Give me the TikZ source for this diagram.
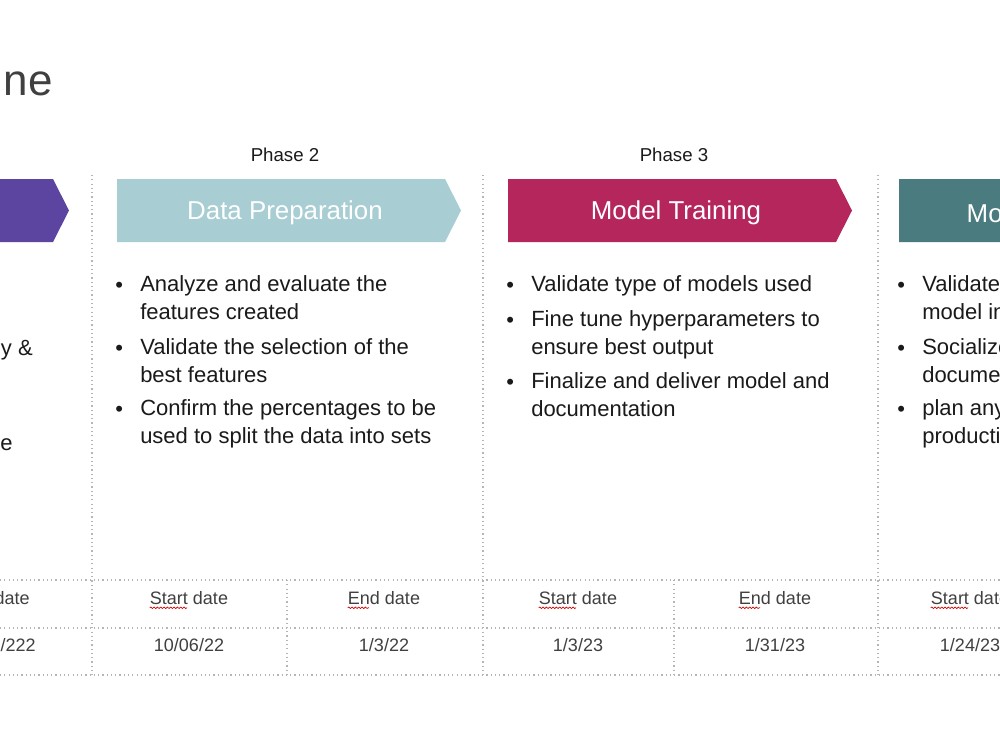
\documentclass[tikz,border=0pt]{standalone}
\usepackage{fontspec}
\setmainfont{Liberation Sans}
\usetikzlibrary{decorations.pathmorphing}
\definecolor{ph1}{HTML}{5B45A0}
\definecolor{ph2}{HTML}{A8CDD3}
\definecolor{ph3}{HTML}{B5265C}
\definecolor{ph4}{HTML}{4A7B7F}
\definecolor{txt}{HTML}{1A1A1A}
\definecolor{grid}{HTML}{B5B5B5}
\begin{document}
\begin{tikzpicture}[x=0.75pt,y=-0.75pt,
  gridline/.style={grid,line width=0.9pt,dash pattern=on 0.9pt off 2.3pt},
  bul/.style={anchor=base west,inner sep=0,text=txt,font=\fontsize{16.5}{21}\selectfont,align=left},
  btxt/.style={bul,anchor=north west},
  hdr/.style={text=white,font=\fontsize{19.4}{22}\selectfont},
  phase/.style={text=txt,font=\fontsize{14}{16}\selectfont},
  datet/.style={text=black!75,font=\fontsize{13.5}{15}\selectfont},
  squig/.style={red!80!black,line width=0.5pt,decorate,decoration={snake,amplitude=0.6pt,segment length=2.5pt}}]
\useasboundingbox (0,0) rectangle (1000,750);
\clip (0,0) rectangle (1000,750);
\fill[white] (0,0) rectangle (1000,750);
% title
\node[anchor=base east,inner sep=0,text=black!75,font=\fontsize{33}{36}\selectfont] (title) at (53,95) {ne};
% grid
\foreach \y in {580,628,675} \draw[gridline] (0,\y) -- (1000,\y);
\foreach \x in {92,483,878} \draw[gridline] (\x,175) -- (\x,675);
\foreach \x in {287,674} \draw[gridline] (\x,580) -- (\x,675);
% chevrons
\fill[ph1] (-10,179) -- (53,179) -- (69,210.5) -- (53,242) -- (-10,242) -- cycle;
\fill[ph2] (117,179) -- (445,179) -- (461,210.5) -- (445,242) -- (117,242) -- cycle;
\fill[ph3] (508,179) -- (836,179) -- (852,210.5) -- (836,242) -- (508,242) -- cycle;
\fill[ph4] (899,179) -- (1227,179) -- (1243,210.5) -- (1227,242) -- (899,242) -- cycle;
\node[hdr] (h2) at (285,213) {Data Preparation};
\node[hdr] (h3) at (676,213) {Model Training};
\node[hdr,anchor=west] (h4) at (962,213) {Model};
\node[phase] (p2) at (285,155) {Phase 2};
\node[phase] (p3) at (674,155) {Phase 3};
% phase 1 fragments
\node[bul,anchor=base east] (l1a) at (33,355) {y \&};
\node[bul,anchor=base east] (l1b) at (13,450) {e};
% phase 2 bullets
\node[bul] (b2a) at (115,292) {•}; \node[btxt] (t2a) at (140,275.5) {Analyze and evaluate the\\features created};
\node[bul] (b2b) at (115,355) {•}; \node[btxt] (t2b) at (140,338.5) {Validate the selection of the\\best features};
\node[bul] (b2c) at (115,416) {•}; \node[btxt] (t2c) at (140,399.5) {Confirm the percentages to be\\used to split the data into sets};
% phase 3 bullets
\node[bul] (b3a) at (506,292) {•}; \node[btxt] (t3a) at (531,275.5) {Validate type of models used};
\node[bul] (b3b) at (506,327) {•}; \node[btxt] (t3b) at (531,310.5) {Fine tune hyperparameters to\\ensure best output};
\node[bul] (b3c) at (506,389) {•}; \node[btxt] (t3c) at (531,372.5) {Finalize and deliver model and\\documentation};
% phase 4 bullets
\node[bul] (b4a) at (897,292) {•}; \node[btxt] (t4a) at (922,275.5) {Validate\\model in};
\node[bul] (b4b) at (897,355) {•}; \node[btxt] (t4b) at (922,338.5) {Socialize\\documentation};
\node[bul] (b4c) at (897,416) {•}; \node[btxt] (t4c) at (922,399.5) {plan any\\production};
% dates
\node[datet,anchor=base east,inner sep=0] (d1e) at (30,604) {End date};
\node[datet,anchor=base east,inner sep=0] (d1v) at (36,651) {/222};
\foreach \n/\x/\lab/\val in {s2/189/Start/10\slash 06\slash 22, e2/384/End/1\slash 3\slash 22, s3/578/Start/1\slash 3\slash 23, e3/775/End/1\slash 31\slash 23, s4/970/Start/1\slash 24\slash 23}{
  \node[datet,anchor=base,inner sep=0] (\n l) at (\x,604) {\lab{} date};
  \node[datet,anchor=base,inner sep=0] (\n v) at (\x,651) {\val};
}
\foreach \n/\w in {s2/28,s3/28,s4/28} \draw[squig] ([yshift=-2.5pt]\n l.south west) -- ++(\w pt,0);
\foreach \n/\w in {e2/16,e3/16} \draw[squig] ([yshift=-2.5pt]\n l.south west) -- ++(\w pt,0);
\end{tikzpicture}
\end{document}
